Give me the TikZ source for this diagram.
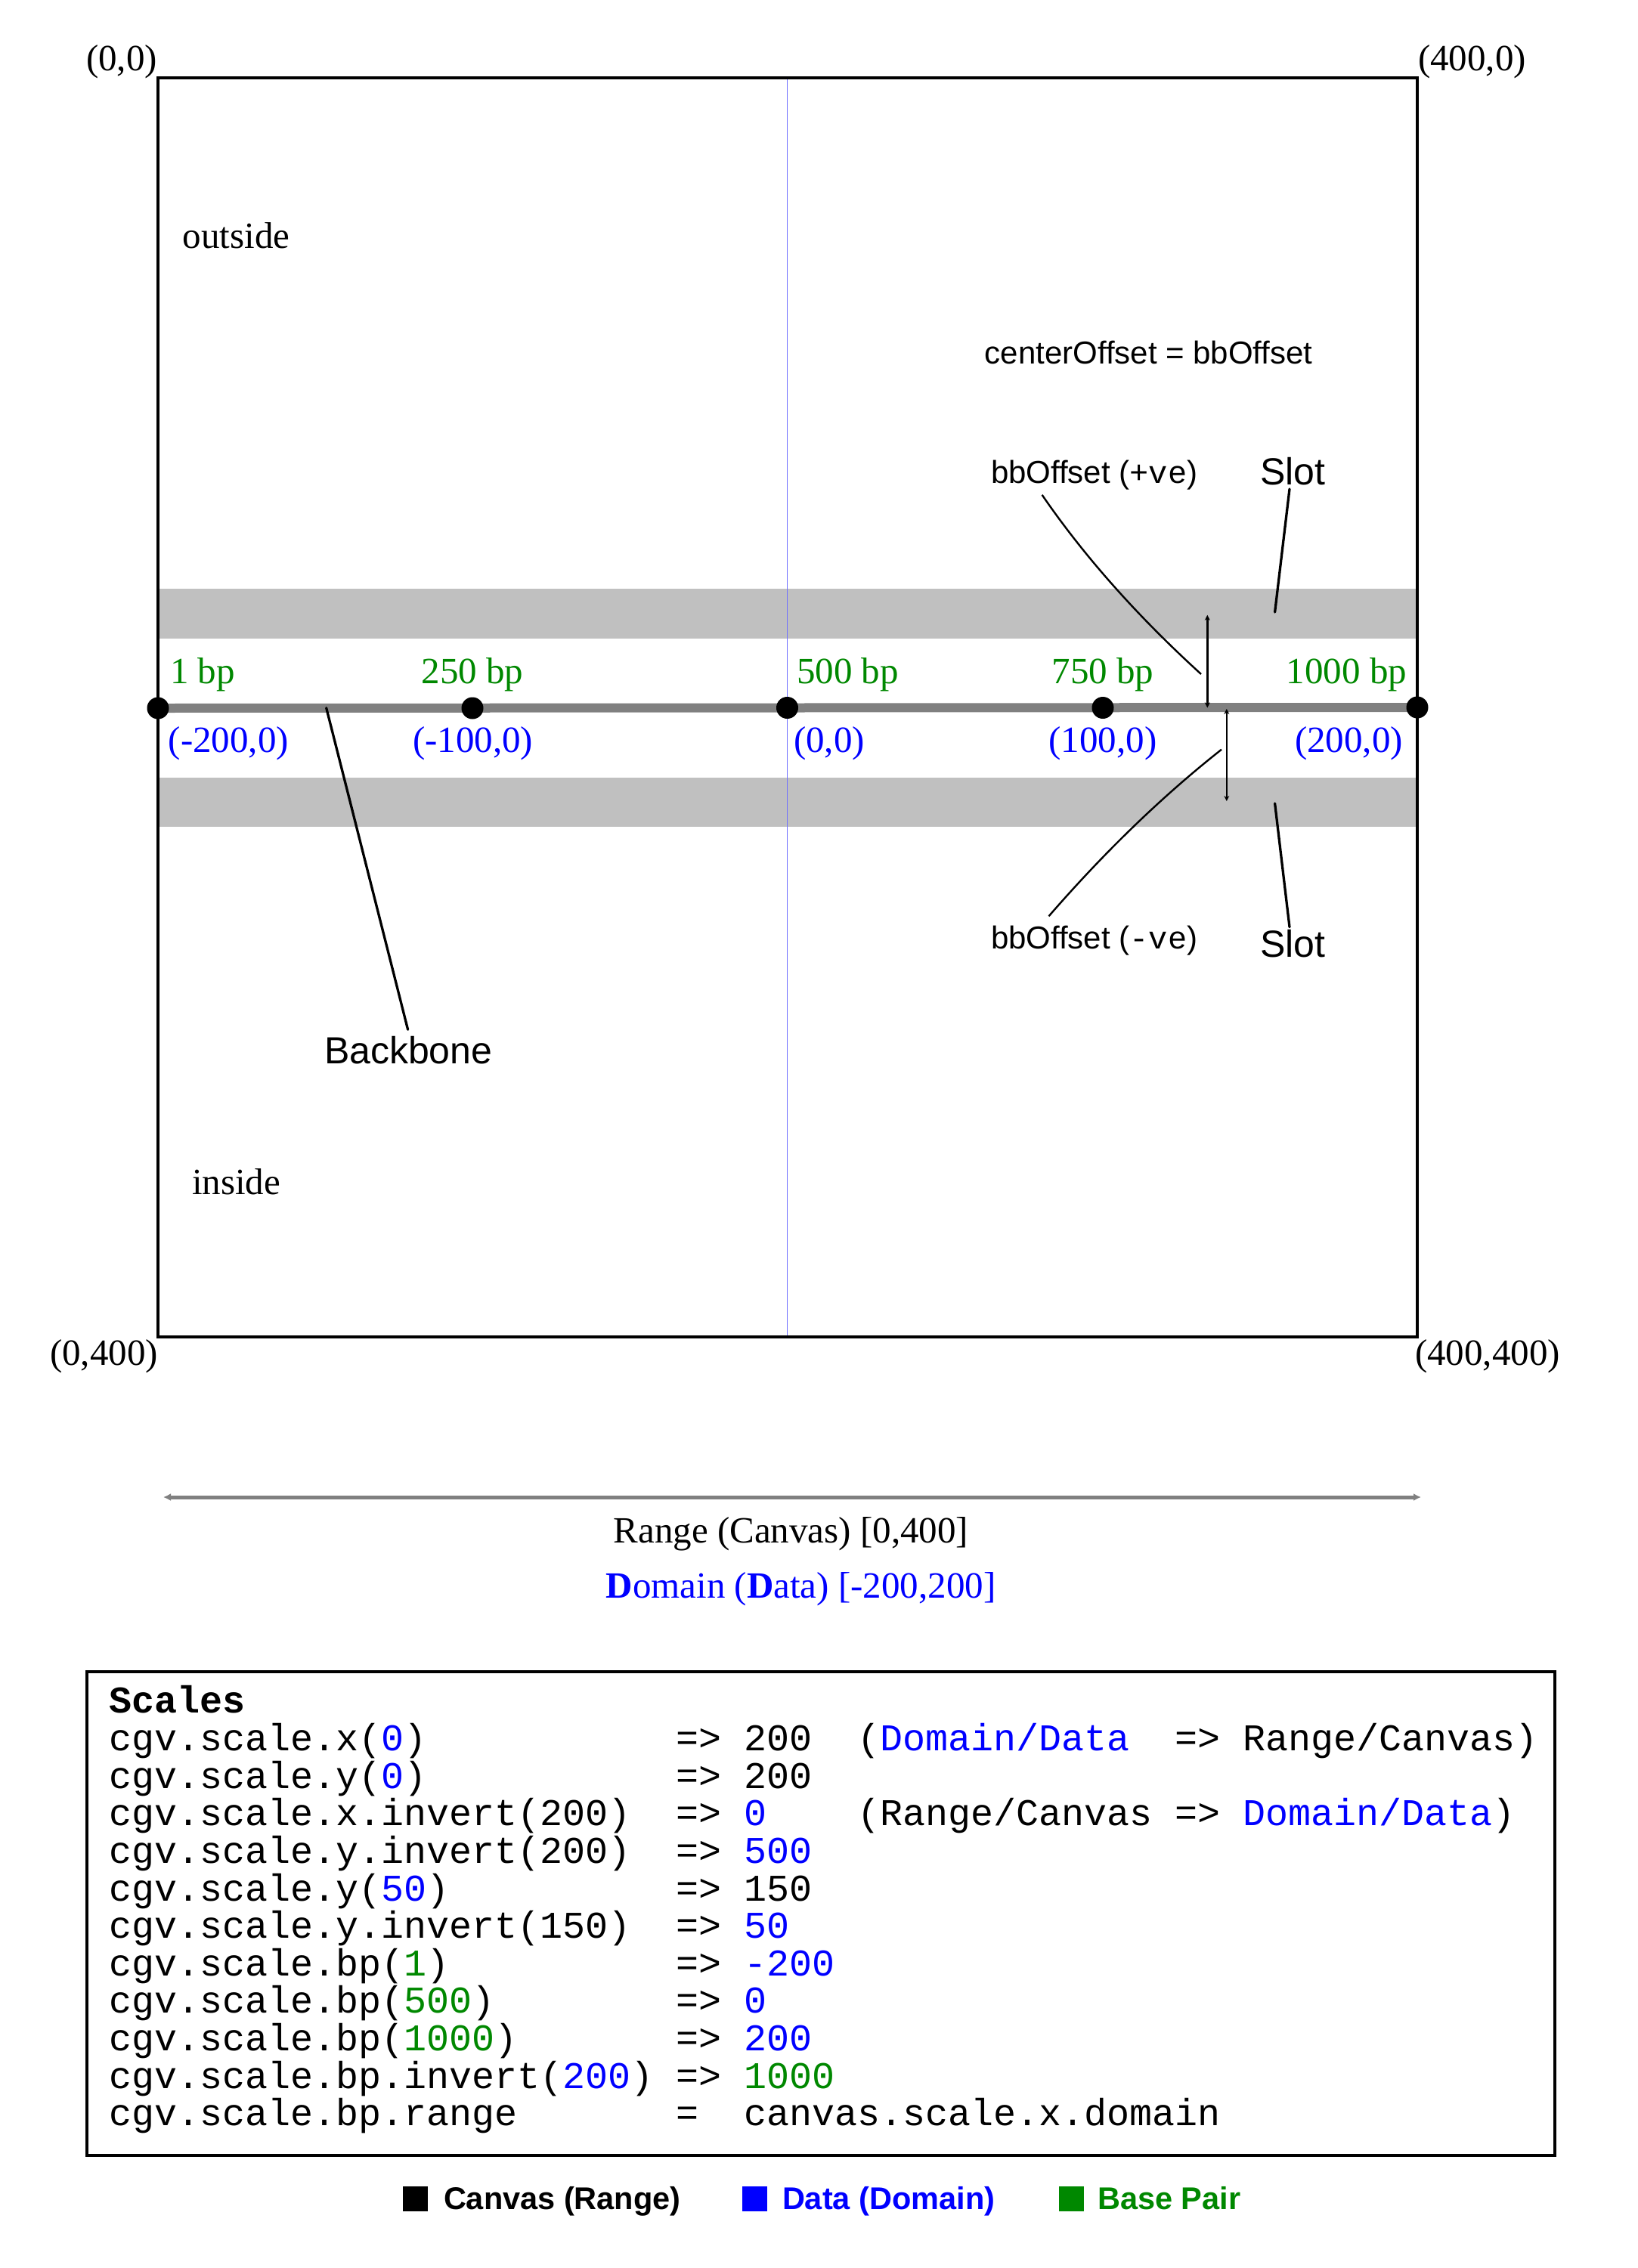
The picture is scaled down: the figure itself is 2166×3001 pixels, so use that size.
\documentclass[tikz,border=0pt]{standalone}
\usepackage{fontspec}
\setmainfont{Liberation Serif}
\setsansfont{Liberation Sans}
\setmonofont{Liberation Mono}
\usetikzlibrary{arrows.meta}
\definecolor{dgreen}{RGB}{0,136,0}
\definecolor{dblue}{RGB}{0,0,255}
\definecolor{bandgray}{RGB}{192,192,192}
\definecolor{bbgray}{RGB}{128,128,128}
\definecolor{lblue}{RGB}{110,110,255}
\newcommand{\blu}[1]{\textcolor{dblue}{#1}}
\newcommand{\grn}[1]{\textcolor{dgreen}{#1}}
\newcommand{\codeseg}[4]{\node[code] (#1) at ({144.3+#3*30},{2316.7+#2*49.6}) {#4};}
\begin{document}
\begin{tikzpicture}[x=1pt,y=-1pt,
  txt/.style={inner sep=0pt, outer sep=0pt, anchor=base west},
  tms/.style={txt, font=\fontsize{49}{59}\selectfont\rmfamily},
  sans/.style={txt, font=\fontsize{42}{50}\selectfont\sffamily},
  bigsans/.style={txt, font=\fontsize{50}{60}\selectfont\sffamily},
  code/.style={txt, font=\fontsize{50}{50}\selectfont\ttfamily},
  legtxt/.style={txt, font=\fontsize{41.5}{50}\selectfont\sffamily\bfseries},
  legsq/.style={inner sep=0pt, outer sep=0pt, minimum size=33pt, anchor=north west},
  dot/.style={circle, fill=black, inner sep=0pt, minimum size=29pt},
  leader/.style={line width=3.3pt, line cap=round},
  thinlead/.style={line width=2.4pt},
  varr/.style={line width=2.4pt, {Stealth[length=7pt,width=7pt]}-{Stealth[length=7pt,width=7pt]}},
]
\useasboundingbox (0,0) rectangle (2166,3001);
\fill[white] (0,0) rectangle (2166,3001);

% slots (gray bands)
\fill[bandgray] (209,779) rectangle (1875,845);
\fill[bandgray] (209,1029) rectangle (1875,1094);

% centre line
\draw[lblue, line width=1.6pt] (1041.5,103) -- (1041.5,1769);

% backbone
\draw[bbgray, line width=12pt] (209,937) -- (1875,936);
\node[dot] (d0) at (209,937) {};
\node[dot] (d1) at (625,937) {};
\node[dot] (d2) at (1041.5,936.5) {};
\node[dot] (d3) at (1459,936.5) {};
\node[dot] (d4) at (1875,936) {};

% canvas box
\draw[line width=3.3pt] (209,103) rectangle (1875,1769);

% corner labels
\node[tms, anchor=base east] (c00) at (208,93) {(0,0)};
\node[tms] (c40) at (1876,93) {(400,0)};
\node[tms, anchor=base east] (c04) at (209,1806) {(0,400)};
\node[tms] (c44) at (1872,1806) {(400,400)};

\node[tms] (outside) at (241.7,328.3) {outside};
\node[tms] (inside) at (254,1580) {inside};

% bp labels
\node[tms, text=dgreen] (bp1) at (225,904) {1 bp};
\node[tms, text=dgreen, anchor=base] (bp250) at (625,904) {250 bp};
\node[tms, text=dgreen] (bp500) at (1054,904) {500 bp};
\node[tms, text=dgreen, anchor=base] (bp750) at (1459,904) {750 bp};
\node[tms, text=dgreen, anchor=base east] (bp1000) at (1861,904) {1000 bp};

% domain labels
\node[tms, text=dblue] (dm200) at (222.7,995) {(-200,0)};
\node[tms, text=dblue, anchor=base] (dm100) at (625.6,995) {(-100,0)};
\node[tms, text=dblue] (dz) at (1050,995) {(0,0)};
\node[tms, text=dblue, anchor=base] (dp100) at (1459,995) {(100,0)};
\node[tms, text=dblue, anchor=base east] (dp200) at (1856,995) {(200,0)};

% annotations
\node[sans] (center) at (1302.7,481) {centerOffset = bbOffset};
\node[sans] (bbpos) at (1311,639.5) {bbOffset (\texttt{+ve})};
\node[sans] (bbneg) at (1311,1255) {bbOffset (\texttt{-ve})};
\node[bigsans] (slottop) at (1667,641) {Slot};
\node[bigsans] (slotbot) at (1667,1266) {Slot};
\node[bigsans] (backbone) at (429,1407) {Backbone};

% leader coordinates
\coordinate (bbA) at (431.7,936.7);
\coordinate (bbB) at (539.6,1362.3);
\coordinate (stA) at (1706,647);
\coordinate (stB) at (1686.6,810);
\coordinate (sbA) at (1686.6,1063);
\coordinate (sbB) at (1706,1226.7);
\coordinate (bpA) at (1378.6,654.8);
\coordinate (bpB) at (1589,892);
\coordinate (bnA) at (1616,991.7);
\coordinate (bnB) at (1387.5,1212.3);
\coordinate (vpA) at (1597.3,813.8);
\coordinate (vpB) at (1597.3,936.4);
\coordinate (vnA) at (1622.8,938);
\coordinate (vnB) at (1622.8,1060);

\draw[leader] (bbA) -- (bbB);
\draw[leader] (stA) -- (stB);
\draw[leader] (sbA) -- (sbB);
\draw[thinlead] (bpA) .. controls (1434.3,736) and (1504.5,815) .. (bpB);
\draw[thinlead] (bnA) .. controls (1537.5,1053.6) and (1461.4,1127.2) .. (bnB);
\draw[varr] (vpA) -- (vpB);
\draw[varr] (vnA) -- (vnB);

% range arrow
\coordinate (r1) at (216,1981);
\coordinate (r2) at (1880,1981);
\draw[bbgray, line width=5pt, {Latex[length=10pt,width=10pt]}-{Latex[length=10pt,width=10pt]}] (r1) -- (r2);
\node[tms] (rangetxt) at (811.7,2041.7) {Range (Canvas) [0,400]};
\node[tms, text=dblue] (domaintxt) at (801.7,2114) {\textbf{D}omain (\textbf{D}ata) [-200,200]};

% scales box
\draw[line width=3.3pt] (115,2212) rectangle (2057,2852);
\node[code] (scales) at (144.3,2266.7) {\textbf{Scales}};
\codeseg{l1a}{0}{0}{cgv.scale.x(\blu{0})}
\codeseg{l1b}{0}{25}{=>}
\codeseg{l1c}{0}{28}{200}
\codeseg{l1d}{0}{33}{(\blu{Domain/Data}}
\codeseg{l1e}{0}{47}{=>}
\codeseg{l1f}{0}{50}{Range/Canvas)}
\codeseg{l2a}{1}{0}{cgv.scale.y(\blu{0})}
\codeseg{l2b}{1}{25}{=>}
\codeseg{l2c}{1}{28}{200}
\codeseg{l3a}{2}{0}{cgv.scale.x.invert(200)}
\codeseg{l3b}{2}{25}{=>}
\codeseg{l3c}{2}{28}{\blu{0}}
\codeseg{l3d}{2}{33}{(Range/Canvas}
\codeseg{l3e}{2}{47}{=>}
\codeseg{l3f}{2}{50}{\blu{Domain/Data})}
\codeseg{l4a}{3}{0}{cgv.scale.y.invert(200)}
\codeseg{l4b}{3}{25}{=>}
\codeseg{l4c}{3}{28}{\blu{500}}
\codeseg{l5a}{4}{0}{cgv.scale.y(\blu{50})}
\codeseg{l5b}{4}{25}{=>}
\codeseg{l5c}{4}{28}{150}
\codeseg{l6a}{5}{0}{cgv.scale.y.invert(150)}
\codeseg{l6b}{5}{25}{=>}
\codeseg{l6c}{5}{28}{\blu{50}}
\codeseg{l7a}{6}{0}{cgv.scale.bp(\grn{1})}
\codeseg{l7b}{6}{25}{=>}
\codeseg{l7c}{6}{28}{\blu{-200}}
\codeseg{l8a}{7}{0}{cgv.scale.bp(\grn{500})}
\codeseg{l8b}{7}{25}{=>}
\codeseg{l8c}{7}{28}{\blu{0}}
\codeseg{l9a}{8}{0}{cgv.scale.bp(\grn{1000})}
\codeseg{l9b}{8}{25}{=>}
\codeseg{l9c}{8}{28}{\blu{200}}
\codeseg{l10a}{9}{0}{cgv.scale.bp.invert(\blu{200})}
\codeseg{l10b}{9}{25}{=>}
\codeseg{l10c}{9}{28}{\grn{1000}}
\codeseg{l11a}{10}{0}{cgv.scale.bp.range}
\codeseg{l11b}{10}{25}{=}
\codeseg{l11c}{10}{28}{canvas.scale.x.domain}

% legend
\node[legsq, fill=black] (sqk) at (533,2893) {};
\node[legtxt] (legk) at (587,2923) {Canvas (Range)};
\node[legsq, fill=dblue] (sqb) at (981.6,2893) {};
\node[legtxt, text=dblue] (legb) at (1035,2923) {Data (Domain)};
\node[legsq, fill=dgreen] (sqg) at (1400.6,2893) {};
\node[legtxt, text=dgreen] (legg) at (1452.3,2923) {Base Pair};
\end{tikzpicture}
\end{document}
